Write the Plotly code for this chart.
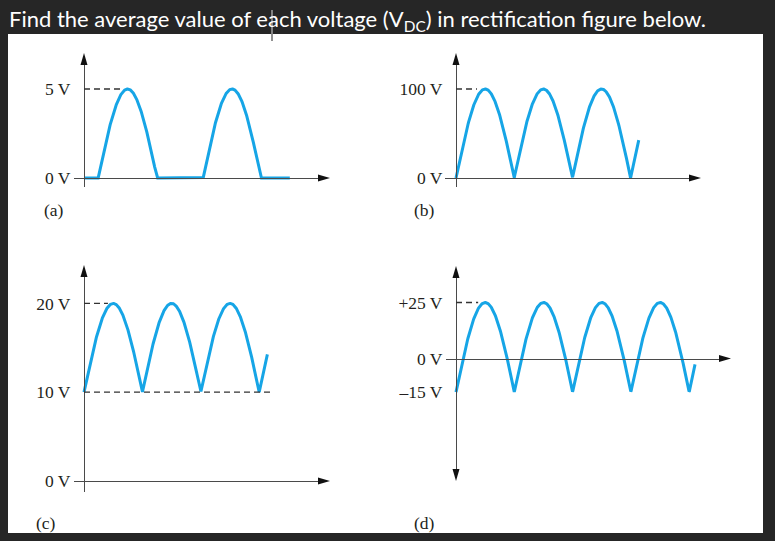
import numpy as np
import plotly.graph_objects as go

W, H = 775, 541

# ---------------- data ----------------
title_text = "Find the average value of each voltage (V<sub>DC</sub>) in rectification figure below."
panel_labels = ["(a)", "(b)", "(c)", "(d)"]

# (a) half-wave rectified, 5 V peak (x in half-cycles)
a_peak = 5.0
a_hump_start = [0.27, 2.27]
a_hump_end = [1.39, 3.37]
a_trace_end = 3.92
a_tickvals = [0, 5]
a_ticktext = ["0 V", "5 V"]

# (b) full-wave rectified, 100 V peak
b_low, b_peak = 0.0, 100.0
b_trace_end = 3.14
b_tickvals = [0, 100]
b_ticktext = ["0 V", "100 V"]

# (c) full-wave between 10 V and 20 V
c_low, c_peak = 10.0, 20.0
c_trace_end = 3.14
c_tickvals = [0, 10, 20]
c_ticktext = ["0 V", "10 V", "20 V"]

# (d) full-wave between -15 V and +25 V
d_low, d_peak = -15.0, 25.0
d_trace_end = 4.1
d_tickvals = [-15, 0, 25]
d_ticktext = ["\u201315 V", "0 V", "+25 V"]

# ---------------- style / geometry ----------------
BLUE = "#16a5e6"
AX = "#4a4a4a"
TXT = "#231f20"
SERIF = "Liberation Serif"

geo = [
    dict(ox=84, oy=178, ux=52.5, uy=17.8, xl=74, xt=330, yb=187, yt=53, down=False),
    dict(ox=456, oy=178, ux=58.2, uy=0.89, xl=445, xt=701, yb=187, yt=53, down=False),
    dict(ox=84, oy=481, ux=58.4, uy=8.88, xl=74, xt=330, yb=492, yt=265, down=False),
    dict(ox=456, oy=358.5, ux=58.3, uy=2.24, xl=446, xt=731, yb=481, yt=266, down=True),
]
ARW_L, ARW_W, ARW_IN = 12, 7, 8


def fullwave(lo, hi, end):
    x = np.linspace(0, end, 600)
    return x, lo + (hi - lo) * np.abs(np.sin(np.pi * x))


def halfwave(peak, starts, ends, end):
    x = np.linspace(0, end, 800)
    y = np.zeros_like(x)
    for s, e in zip(starts, ends):
        m = (x >= s) & (x <= e)
        y[m] = peak * np.sin(np.pi * (x[m] - s) / (e - s))
    return x, y


curves = [
    halfwave(a_peak, a_hump_start, a_hump_end, a_trace_end),
    fullwave(b_low, b_peak, b_trace_end),
    fullwave(c_low, c_peak, c_trace_end),
    fullwave(d_low, d_peak, d_trace_end),
]
ticks = [(a_tickvals, a_ticktext), (b_tickvals, b_ticktext),
         (c_tickvals, c_ticktext), (d_tickvals, d_ticktext)]
dashes = [
    [(a_peak, 0.70)],
    [(b_peak, 0.36)],
    [(c_peak, 0.41), (c_low, 3.20)],
    [(d_peak, 0.38)],
]

fig = go.Figure()
shapes = []
annotations = []
layout = {}


def px(xp):
    return xp / W


def py(yp):
    return 1 - yp / H


# white sheet
shapes.append(dict(type="rect", xref="paper", yref="paper", x0=px(8), x1=px(763),
                   y0=py(533), y1=py(34), fillcolor="white", line=dict(width=0),
                   layer="below"))


def tri(tip, direction):
    tx, ty = tip
    if direction == "right":
        pts = [(tx, ty), (tx - ARW_L, ty - ARW_W / 2), (tx - ARW_L, ty + ARW_W / 2)]
    elif direction == "up":
        pts = [(tx, ty), (tx - ARW_W / 2, ty + ARW_L), (tx + ARW_W / 2, ty + ARW_L)]
    else:
        pts = [(tx, ty), (tx - ARW_W / 2, ty - ARW_L), (tx + ARW_W / 2, ty - ARW_L)]
    path = "M " + " L ".join(f"{px(a):.5f},{py(b):.5f}" for a, b in pts) + " Z"
    return dict(type="path", xref="paper", yref="paper", path=path,
                fillcolor="#111111", line=dict(width=0))


for i, g in enumerate(geo):
    sfx = "" if i == 0 else str(i + 1)
    xd0, xd1 = g["xl"], g["xt"] - ARW_IN
    yd_top = g["yt"] + ARW_IN
    yd_bot = g["yb"] - ARW_IN if g["down"] else g["yb"]
    xr = [(xd0 - g["ox"]) / g["ux"], (xd1 - g["ox"]) / g["ux"]]
    yr = [(g["oy"] - yd_bot) / g["uy"], (g["oy"] - yd_top) / g["uy"]]
    layout["xaxis" + sfx] = dict(
        domain=[px(xd0), px(xd1)], range=xr, anchor="free", position=py(g["oy"]),
        showline=True, linecolor=AX, linewidth=1.4, showticklabels=False, ticks="",
        showgrid=False, zeroline=False, fixedrange=True)
    tv, tt = ticks[i]
    layout["yaxis" + sfx] = dict(
        domain=[py(yd_bot), py(yd_top)], range=yr, anchor="free", position=px(g["ox"]),
        showline=True, linecolor=AX, linewidth=1.4, tickvals=tv, ticktext=tt, ticks="",
        ticklabelstandoff=10,
        tickfont=dict(family=SERIF, size=17.5, color=TXT),
        showgrid=False, zeroline=False, fixedrange=True)
    xa = "x" + sfx
    ya = "y" + sfx
    for v, xe in dashes[i]:
        shapes.append(dict(type="line", xref=xa, yref=ya, x0=0, x1=xe, y0=v, y1=v,
                           line=dict(color="#333333", width=1.3, dash="6px,4px")))
    x, y = curves[i]
    fig.add_trace(go.Scatter(x=x, y=y, mode="lines", xaxis=xa, yaxis=ya,
                             line=dict(color=BLUE, width=3), hoverinfo="skip",
                             showlegend=False))
    shapes.append(tri((g["xt"], g["oy"]), "right"))
    shapes.append(tri((g["ox"], g["yt"]), "up"))
    if g["down"]:
        shapes.append(tri((g["ox"], g["yb"]), "down"))

# panel letters
label_pos = [(54, 210), (425, 210), (46, 523), (425, 523)]
for lab, (lx, ly) in zip(panel_labels, label_pos):
    annotations.append(dict(text=lab, x=px(lx), y=py(ly), xref="paper", yref="paper",
                            showarrow=False, xanchor="center", yanchor="middle",
                            font=dict(family=SERIF, size=17.5, color=TXT)))

# title
annotations.append(dict(text=title_text, x=px(7), y=py(20), xref="paper", yref="paper",
                        showarrow=False, xanchor="left", yanchor="middle",
                        font=dict(family="Lato", size=22, color="white")))

# text cursor artefact
shapes.append(dict(type="line", xref="paper", yref="paper", x0=px(272), x1=px(272),
                   y0=py(34), y1=py(10), line=dict(color="#e0e0e0", width=1)))
shapes.append(dict(type="line", xref="paper", yref="paper", x0=px(272), x1=px(272),
                   y0=py(41), y1=py(34), line=dict(color="#222222", width=1)))

fig.update_layout(
    width=W, height=H, margin=dict(l=0, r=0, t=0, b=0),
    paper_bgcolor="#262626", plot_bgcolor="rgba(0,0,0,0)",
    shapes=shapes, annotations=annotations, showlegend=False, **layout)

fig.write_html(
    "out.html",
    config={"displayModeBar": False, "staticPlot": True},
    post_script="document.body.style.margin='0';document.body.style.background='#262626';",
)
